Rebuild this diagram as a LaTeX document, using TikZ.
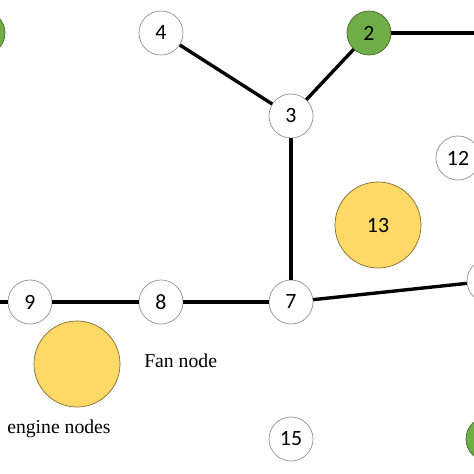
\documentclass[tikz,border=0pt]{standalone}
\usepackage{fontspec}
\setmainfont{Liberation Serif}
\newfontfamily\numfont{Carlito}
\usepackage{tikz}
\usetikzlibrary{positioning}
\usepackage{xcolor}
\definecolor{engine-green}{RGB}{112,173,71}
\definecolor{fan-yellow}{RGB}{255,217,102}
\tikzstyle{plain}=[circle, draw=gray!85, line width=0.5pt, fill=white, minimum size=1.1cm, inner sep=0pt, font=\numfont\fontsize{15.5}{15.5}\selectfont]
\tikzstyle{engine}=[plain, fill=engine-green, draw=engine-green!60!black]
\tikzstyle{fan}=[plain, fill=fan-yellow, draw=fan-yellow!50!black, minimum size=2.15cm]
\tikzstyle{link}=[line width=2.4pt]
\tikzstyle{legend}=[inner sep=0pt, font=\fontsize{14}{14}\selectfont]

\begin{document}
\begin{tikzpicture}[x=0.025cm,y=-0.025cm]
	\useasboundingbox (0,0) rectangle (474,474);
	\clip (0,0) rectangle (474,474);
	% nodes
	\node[engine] (n1) at (-17,33) {};
	\node[engine] (n2) at (369,33) {2};
	\node[plain] (n3) at (291,116) {3};
	\node[plain] (n4) at (161,33) {4};
	\node[plain] (n7) at (291,302) {7};
	\node[plain] (n8) at (161,302) {8};
	\node[plain] (n9) at (30,302) {9};
	\node[plain] (n11) at (489,281) {};
	\node[plain] (n12) at (458,158) {12};
	\node[fan] (n13) at (378,225) {13};
	\node[plain] (n15) at (291,439) {15};
	\node[engine] (n16) at (488,439) {};
	\coordinate (c2east) at (520,33);
	\coordinate (c9west) at (-40,302);
	% links
	\draw[link] (n4) -- (n3);
	\draw[link] (n3) -- (n2);
	\draw[link] (n2) -- (c2east);
	\draw[link] (n3) -- (n7);
	\draw[link] (n7) -- (n8);
	\draw[link] (n8) -- (n9);
	\draw[link] (n9) -- (c9west);
	\draw[link] (n7) -- (n11);
	% legend
	\node[fan] (fankey) at (77,364) {};
	\node[legend, anchor=base west] (fanlabel) at (144,367) {Fan node};
	\node[legend, anchor=base west] (enginelabel) at (7,433) {engine nodes};
\end{tikzpicture}
\end{document}
